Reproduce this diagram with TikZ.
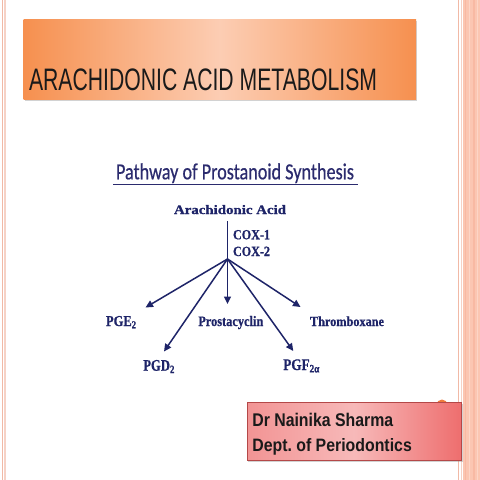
\documentclass[tikz,border=0pt]{standalone}
\usepackage{graphicx}
\usepackage{fontspec}
\setmainfont{Liberation Serif}
\newfontfamily\arialf{Liberation Sans}
\newfontfamily\calibf[FakeBold=0.6]{Carlito}
\newfontfamily\hvy[FakeBold=0.8]{Liberation Serif Bold}
\usetikzlibrary{arrows.meta,shadows}
\definecolor{navy}{HTML}{1E2468}
\definecolor{subnavy}{HTML}{2B2B6E}
\definecolor{orEdge}{HTML}{F6904F}
\definecolor{orMid}{HTML}{FCCDB3}
\definecolor{rdLeft}{HTML}{F29494}
\definecolor{rdMid}{HTML}{F7B9B9}
\definecolor{rdRight}{HTML}{EE6E6E}
\definecolor{rdBorder}{HTML}{B44848}
\definecolor{band}{HTML}{FBC6B2}
\definecolor{bandA}{HTML}{F8B9A3}
\definecolor{bandB}{HTML}{FDD5C6}
\definecolor{thinA}{HTML}{F1B9A6}
\definecolor{thinB}{HTML}{F6D2C6}
\definecolor{txt}{HTML}{1A1A1A}
\definecolor{bump}{HTML}{F07B3C}
\newcommand\fitbox[3]{\resizebox{#1pt}{#2pt}{#3}}
\tikzset{
  lbl/.style={anchor=base west, inner sep=0pt, outer sep=0pt},
  flow/.style={draw=navy, line width=1.5pt, -{Triangle[length=7.5pt,width=7pt]}},
  stem/.style={draw=navy, line width=1.5pt},
}
\begin{document}
\begin{tikzpicture}[x=1pt,y=-1pt]
\useasboundingbox (0,0) rectangle (480,480);
\fill[white] (0,0) rectangle (480,480);
% borders
\draw[thinA, line width=1pt] (2.5,0) -- (2.5,480);
\draw[thinB, line width=1.5pt] (4.8,0) -- (4.8,480);
\draw[thinA, line width=1pt] (458,0) -- (458,480);
\draw[thinB, line width=1.3pt] (461.5,0) -- (461.5,480);
\fill[band] (463,0) rectangle (480,480);
\fill[bandA] (465,0) rectangle (466.2,480);
\fill[bandB] (469,0) rectangle (470,480);
\fill[bandA] (473,0) rectangle (474.5,480);
\fill[bandB] (477,0) rectangle (478,480);
% title box
\shade[left color=orEdge, right color=orEdge, middle color=orMid,
  drop shadow={shadow xshift=1pt, shadow yshift=-2pt, opacity=0.35}]
  (23.5,19) rectangle (416,99);
\node[lbl] (title) at (29,90) {\fitbox{348}{21.7}{\arialf\color{txt}ARACHIDONIC ACID METABOLISM}};
% subtitle
\node[lbl] (sub) at (116,179.3) {\fitbox{238}{16}{\calibf\color{subnavy}Pathway of Prostanoid Synthesis}};
\draw[subnavy, line width=1.5pt] (113,184.5) -- (358,184.5);
% diagram
\node[lbl] (aa) at (174,214) {\fitbox{112}{9}{\hvy\color{navy}Arachidonic Acid}};
\node[lbl] (cox1) at (233,239.3) {\fitbox{37}{9.3}{\hvy\color{navy}COX-1}};
\node[lbl] (cox2) at (233,256) {\fitbox{37}{9.3}{\hvy\color{navy}COX-2}};
\coordinate (top) at (227.5,221);
\coordinate (j) at (227.5,259);
\draw[stem] (top) -- (j);
\coordinate (tE) at (145.5,307.5);
\coordinate (tD) at (164,351.5);
\coordinate (tP) at (227.5,304);
\coordinate (tF) at (293.3,351);
\coordinate (tT) at (300.5,307);
\draw[flow] (j) -- (tE);
\draw[flow] (j) -- (tD);
\draw[flow] (j) -- (tP);
\draw[flow] (j) -- (tF);
\draw[flow] (j) -- (tT);
\node[lbl] (pge) at (106,326) {\fitbox{30.7}{10}{\hvy\color{navy}PGE\textsubscript{2}}};
\node[lbl] (pro) at (198.3,326) {\fitbox{65}{10}{\hvy\color{navy}Prostacyclin}};
\node[lbl] (thr) at (310,326) {\fitbox{74}{9.6}{\hvy\color{navy}Thromboxane}};
\node[lbl] (pgd) at (143.3,370.7) {\fitbox{31.7}{10.7}{\hvy\color{navy}PGD\textsubscript{2}}};
\node[lbl] (pgf) at (283.3,370) {\fitbox{36.7}{10.7}{\hvy\color{navy}PGF\textsubscript{2α}}};
% author box
\fill[bump] (442,405) circle (5.5);
\shade[left color=rdLeft, right color=rdRight, middle color=rdMid,
  drop shadow={shadow xshift=1pt, shadow yshift=-2pt, opacity=0.35}]
  (247,402) rectangle (461.5,460);
\draw[rdBorder, line width=0.6pt] (247,402) rectangle (461.5,460);
\node[lbl] (dr) at (252.3,426) {\fitbox{141}{13.3}{\arialf\bfseries\color{txt}Dr Nainika Sharma}};
\node[lbl] (dept) at (252.3,451) {\fitbox{159.5}{13}{\arialf\bfseries\color{txt}Dept.\ of Periodontics}};
\end{tikzpicture}
\end{document}
